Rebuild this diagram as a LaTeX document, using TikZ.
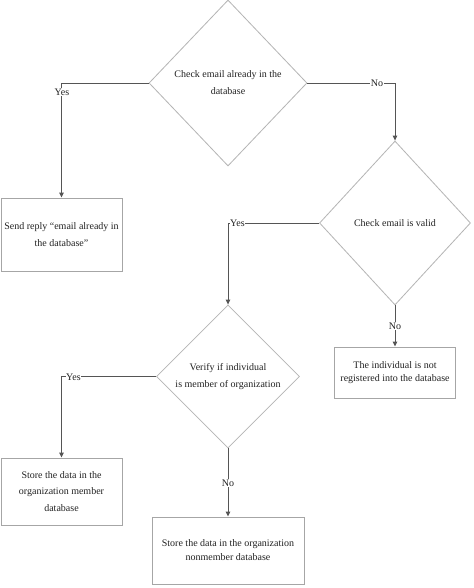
\documentclass[tikz,border=0pt]{standalone}
\usepackage{fontspec}
\setmainfont{Liberation Serif}
\usetikzlibrary{shapes.geometric,arrows.meta}
\definecolor{diamondgray}{HTML}{B4B4B4}
\definecolor{boxgray}{HTML}{A6A6A6}
\definecolor{linegray}{HTML}{555555}
\definecolor{txtcol}{HTML}{222222}
\begin{document}
\begin{tikzpicture}[x=1bp,y=-1bp,
  dec/.style={diamond, draw=diamondgray, line width=0.8bp, inner sep=0pt, align=center, text=txtcol, font=\fontsize{10bp}{17bp}\selectfont},
  box/.style={rectangle, draw=boxgray, line width=0.9bp, inner sep=0pt, align=center, text=txtcol},
  conn/.style={draw=linegray, line width=0.9bp, -{Triangle[length=5bp,width=4.5bp]}},
  lbl/.style={fill=white, inner sep=0.6bp, text=txtcol, font=\fontsize{10bp}{12bp}\selectfont}]
\useasboundingbox (0,0) rectangle (474,588);
\fill[white] (0,0) rectangle (474,588);
% decisions
\node[dec, minimum width=158bp, minimum height=166bp] (d1) at (228,83) {Check email already in the\\database};
\node[dec, minimum width=151bp, minimum height=164bp] (d2) at (395,223) {Check email is valid};
\node[dec, minimum width=143bp, minimum height=143bp] (d3) at (228,376.5) {Verify if individual\\is member of organization};
% boxes
\node[box, minimum width=121bp, minimum height=73bp, font=\fontsize{10bp}{17bp}\selectfont] (b1) at (61.5,234.5) {Send reply “email already in\\the database”};
\node[box, minimum width=121bp, minimum height=51bp, font=\fontsize{10bp}{13.5bp}\selectfont] (b2) at (395,372.5) {The individual is not\\registered into the database};
\node[box, minimum width=121bp, minimum height=67bp, font=\fontsize{10bp}{16.5bp}\selectfont] (b3) at (61.5,491.5) {Store the data in the\\organization member\\database};
\node[box, minimum width=152bp, minimum height=67bp, font=\fontsize{10bp}{14bp}\selectfont] (b4) at (228,550.5) {Store the data in the organization\\nonmember database};
% connectors
\draw[conn] (d1.west) -| (b1.north);
\draw[conn] (d1.east) -| (d2.north);
\draw[conn] (d2.west) -| (d3.north);
\draw[conn] (d2.south) -- (b2.north);
\draw[conn] (d3.west) -| (b3.north);
\draw[conn] (d3.south) -- (b4.north);
% labels
\node[lbl] (l1) at (62,92) {Yes};
\node[lbl] (l2) at (377,83) {No};
\node[lbl] (l3) at (237.5,223) {Yes};
\node[lbl] (l4) at (395,326) {No};
\node[lbl] (l5) at (73.5,377) {Yes};
\node[lbl] (l6) at (228,483) {No};
\end{tikzpicture}
\end{document}
